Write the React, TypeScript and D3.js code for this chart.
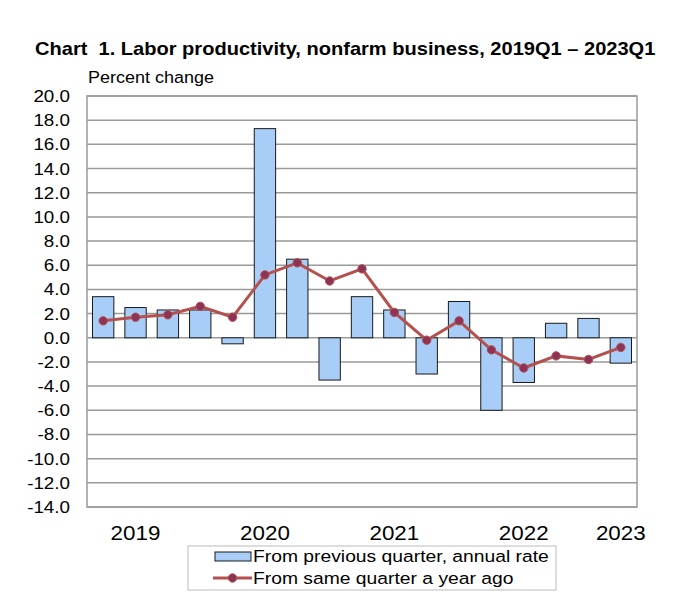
import * as d3 from "d3";
import { useRef, useEffect } from "react";

const quarters = [
  "2019Q1", "2019Q2", "2019Q3", "2019Q4",
  "2020Q1", "2020Q2", "2020Q3", "2020Q4",
  "2021Q1", "2021Q2", "2021Q3", "2021Q4",
  "2022Q1", "2022Q2", "2022Q3", "2022Q4",
  "2023Q1",
];
const prevQuarter = [3.4, 2.5, 2.3, 2.3, -0.5, 17.3, 6.5, -3.5, 3.4, 2.3, -3.0, 3.0, -6.0, -3.7, 1.2, 1.6, -2.1];
const yearAgo = [1.4, 1.7, 1.9, 2.6, 1.7, 5.2, 6.2, 4.7, 5.7, 2.1, -0.2, 1.4, -1.0, -2.5, -1.5, -1.8, -0.8];
const yearLabels = ["2019", "2020", "2021", "2022", "2023"];
const yearLabelAt = ["2019Q2", "2020Q2", "2021Q2", "2022Q2", "2023Q1"];
const legendLabels = ["From previous quarter, annual rate", "From same quarter a year ago"];
const yTicks = d3.range(-14, 20.01, 2);

const font = "'Liberation Sans', Arial, sans-serif";

// text drawn a bit wider than the font, like the reference
function wideText(parent: any, x: number, y: number, txt: string, size: number, sx: number, anchor = "start", weight = "normal") {
  const g = parent.append("g").attr("transform", `translate(${x},${y}) scale(${sx},1)`);
  g.append("text")
    .attr("font-family", font).attr("font-size", size).attr("font-weight", weight)
    .attr("text-anchor", anchor)
    .style("white-space", "pre")
    .text(txt);
  return g;
}

export default function App() {
  const svgRef = useRef(null);
  const W = 678, H = 608;
  const margin = { top: 96, right: 41, bottom: 100, left: 87 };
  const width = W - margin.left - margin.right;
  const height = 507 - margin.top;

  useEffect(() => {
    const root = d3.select(svgRef.current);
    root.selectAll("*").remove();

    wideText(root, 35, 55, "Chart  1. Labor productivity, nonfarm business, 2019Q1 \u2013 2023Q1", 18, 1.115, "start", "bold");
    wideText(root, 88, 83, "Percent change", 16.5, 1.09);

    const svg = root.append("g").attr("transform", `translate(${margin.left},${margin.top})`);

    const x = d3.scaleBand().domain(quarters).range([0, width]).paddingInner(0.34).paddingOuter(0.17);
    const y = d3.scaleLinear().domain([-14, 20]).range([height, 0]);

    // gridlines
    svg.append("g").selectAll("line").data(yTicks).join("line")
      .attr("x1", 0).attr("x2", width)
      .attr("y1", d => y(d)).attr("y2", d => y(d))
      .attr("stroke", "#9a9a9a").attr("stroke-width", 1.5);

    // plot border
    svg.append("rect")
      .attr("x", 0).attr("y", 0).attr("width", width).attr("height", height)
      .attr("fill", "none").attr("stroke", "#9a9a9a").attr("stroke-width", 1.5);

    // y tick labels
    yTicks.forEach(t => {
      wideText(svg, -17, y(t) + 6, t.toFixed(1), 16.5, 1.14, "end");
    });

    // bars
    svg.append("g").selectAll("rect").data(prevQuarter).join("rect")
      .attr("x", (_, i) => x(quarters[i])!)
      .attr("width", x.bandwidth())
      .attr("y", d => y(Math.max(0, d)))
      .attr("height", d => Math.abs(y(d) - y(0)))
      .attr("fill", "#a8cdf7").attr("stroke", "#1a1a1a").attr("stroke-width", 1);

    // line
    const line = d3.line<number>()
      .x((_, i) => x(quarters[i])! + x.bandwidth() / 2)
      .y(d => y(d));
    svg.append("path").datum(yearAgo)
      .attr("d", line).attr("fill", "none")
      .attr("stroke", "#b3514e").attr("stroke-width", 3);
    svg.append("g").selectAll("circle").data(yearAgo).join("circle")
      .attr("cx", (_, i) => x(quarters[i])! + x.bandwidth() / 2)
      .attr("cy", d => y(d)).attr("r", 4.2)
      .attr("fill", "#8d3357").attr("stroke", "#b3514e").attr("stroke-width", 1);

    // year labels
    yearLabels.forEach((lbl, i) => {
      wideText(svg, x(yearLabelAt[i])! + x.bandwidth() / 2, height + 33, lbl, 20, 1.12, "middle");
    });

    // legend
    const lg = root.append("g").attr("transform", "translate(188,546)");
    lg.append("rect").attr("width", 368).attr("height", 44)
      .attr("fill", "#fff").attr("stroke", "#bbb").attr("stroke-width", 1);
    lg.append("rect").attr("x", 27).attr("y", 6).attr("width", 36).attr("height", 9)
      .attr("fill", "#a8cdf7").attr("stroke", "#1a1a1a").attr("stroke-width", 1);
    lg.append("line").attr("x1", 25).attr("x2", 64).attr("y1", 32).attr("y2", 32)
      .attr("stroke", "#b3514e").attr("stroke-width", 3);
    lg.append("circle").attr("cx", 44.5).attr("cy", 32).attr("r", 4.2)
      .attr("fill", "#8d3357").attr("stroke", "#b3514e");
    legendLabels.forEach((lbl, i) => {
      wideText(lg, 65, 16 + i * 22, lbl, 16.5, 1.17);
    });
  }, []);

  return <svg ref={svgRef} width={W} height={H} style={{ position: "absolute", left: 0, top: 0 }} />;
}
